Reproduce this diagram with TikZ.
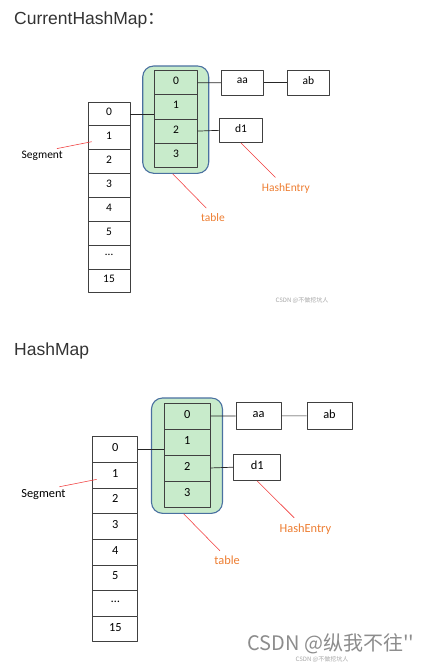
\documentclass[tikz,border=0pt]{standalone}
\usepackage{fontspec}
\setmainfont{Carlito}
\newfontfamily\titlefont{Liberation Sans}
\newfontfamily\cjk{Noto Sans CJK SC}
\definecolor{tabgreen}{HTML}{C8EBCB}
\definecolor{tabblue}{HTML}{4A70A0}
\definecolor{lblorange}{HTML}{ED7D31}
\definecolor{titlegray}{HTML}{333333}
\definecolor{calloutred}{HTML}{F03A3A}
% one segment column with its table and entries; #1 prefixes the node names
\newcommand{\mapfig}[1]{%
  \node[tabbox] (#1box) at (87.7,17.65) {};
  \foreach \val [count=\i from 0] in {0,1,2,3,4,5,\ldots,15}
    \node[cell] (#1s\i) at (21,11.925+23.85*\i) {\val};
  \foreach \i in {0,...,3}
    \node[cell,fill=tabgreen,minimum width=42.6pt,minimum height=24.15pt] (#1t\i) at (88,-19.225+24.15*\i) {\i};
  \node[cell,minimum height=25.3pt] (#1aa) at (154.3,-19.35) {aa};
  \node[cell,minimum height=25.3pt] (#1ab) at (220.3,-19.35) {ab};
  \node[cell,minimum width=43.4pt,minimum height=24.7pt] (#1d1) at (153,28.35) {d1};
  \draw[link] (#1s0.east) -- (#1s0.east -| #1t1.west);
  \draw[link] (#1t0.east) -- (#1aa.west);
  \draw[link] (#1aa) -- (#1ab);
  \draw[link] (#1t2.east) -- (#1d1.west);
  % labels and their red lines
  \node[lbl] (#1segl) at (-45.8,54) {Segment};
  \node[lbl,lblorange] (#1tabl) at (125,115.3) {table};
  \node[lbl,lblorange] (#1entl) at (197.9,86.3) {HashEntry};
  \coordinate (#1segtip) at (3.7,39.7);
  \draw[callout] ([shift={(-6pt,2.5pt)}]#1segl.north east) -- (#1segtip);
  \draw[callout] ([xshift=-3pt]#1box.south) -- ([shift={(5.3pt,5pt)}]#1tabl.north west);
  \draw[callout] (#1d1.south) -- ([shift={(13.7pt,5.7pt)}]#1entl.north west);
}
\begin{document}
\begin{tikzpicture}[x=1pt,y=-1pt,line join=round,font=\fontsize{11.5}{13}\selectfont,
  cell/.style={draw=black!75,line width=0.8pt,fill=white,inner sep=0pt,text depth=3.5pt,minimum width=42pt,minimum height=23.85pt},
  tabbox/.style={draw=tabblue,line width=1.1pt,fill=tabgreen,rounded corners=11pt,minimum width=66pt,minimum height=107.3pt},
  link/.style={draw=black!85,line width=0.7pt},
  callout/.style={draw=calloutred,line width=0.55pt},
  lbl/.style={inner sep=0pt},
  title/.style={anchor=base west,inner sep=0pt,text=titlegray,font=\titlefont\fontsize{17.5}{20}\selectfont},
  wm/.style={inner sep=0pt,font=\cjk\fontsize{6}{7}\selectfont,text=black!35}]
\useasboundingbox (0,0) rectangle (427,664);
\node[title] (cmtitle) at (14,24) {CurrentHashMap{\cjk ：}};
\begin{scope}[shift={(88,102)}]
\mapfig{cm}
\end{scope}
\node[wm] (cmwm) at (302,300) {CSDN @不做挖坑人};
\node[title] (hmtitle) at (14,355) {HashMap};
\begin{scope}[shift={(92.7,436.7)},scale=1.075,transform shape]
\mapfig{hm}
\end{scope}
\node[wm,font=\cjk\fontsize{20}{22}\selectfont,text=black!45] (hmwm) at (331,644) {CSDN @纵我不往''};
\node[wm] (hmwm2) at (322,659) {CSDN @不做挖坑人};
\end{tikzpicture}
\end{document}
